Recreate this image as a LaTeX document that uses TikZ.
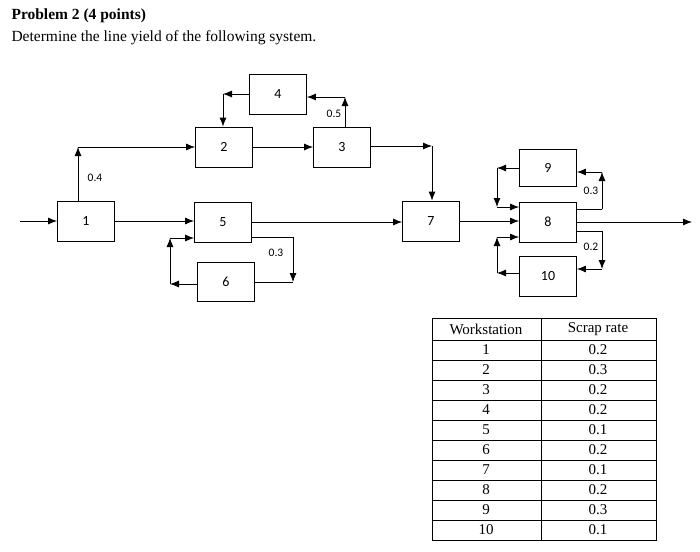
\documentclass[tikz,border=0pt]{standalone}
\usepackage{fontspec}
\setmainfont{Liberation Serif}
\newfontfamily\boxfont{Carlito}
\usetikzlibrary{arrows.meta}
\begin{document}
\begin{tikzpicture}[x=1pt,y=-1pt,
  box/.style={draw,thick,minimum width=57pt,minimum height=40pt,font=\boxfont\fontsize{14}{14}\selectfont},
  ar/.style={-{Latex[length=9pt,width=7pt]},thick},
  ln/.style={thick},
  lab/.style={font=\boxfont\fontsize{11.5}{11.5}\selectfont},
  tb/.style={font=\fontsize{15}{15}\selectfont}]
\useasboundingbox (0,0) rectangle (700,551);
\node[anchor=west,font=\bfseries\fontsize{15.5}{15.5}\selectfont] (t1) at (8,16) {Problem 2 (4 points)};
\node[anchor=west,font=\fontsize{15.5}{15.5}\selectfont] (t2) at (8,38) {Determine the line yield of the following system.};
\node[box] (n1) at (86,221) {1};
\node[box] (n2) at (224,147) {2};
\node[box] (n4) at (278,94) {4};
\node[box] (n3) at (342,147) {3};
\node[box] (n5) at (223,222) {5};
\node[box,minimum height=39pt] (n6) at (226,282) {6};
\node[box] (n7) at (431,221) {7};
\node[box,minimum height=37pt] (n9) at (548,168) {9};
\node[box] (n8) at (548,222) {8};
\node[box] (n10) at (548,276) {10};
\coordinate (in) at (20,221);
\coordinate (out) at (692,222);
\draw[ar] (in) -- (n1.west);
\draw[ar] (n1.east) -- (n5.west |- n1.east);
% 1 -> 2
\coordinate (a1) at (78,147);
\draw[ar] (n1.north -| a1) -- (a1);
\draw[ar] (a1) -- (n2.west);
\node[lab] (l04) at (95,178) {0.4};
\draw[ar] (n2.east) -- (n3.west);
% 3 -> 4
\coordinate (b1) at (345,97);
\draw[ar] (n3.north -| b1) -- (b1);
\draw[ar] (b1) -- (n4.east |- b1);
\node[lab] (l05) at (334,114) {0.5};
% 4 -> 2
\coordinate (c1) at (223,94);
\draw[ar] (n4.west) -- (c1);
\draw[ar] (c1) -- (n2.north -| c1);
% 3 -> 7
\coordinate (d1) at (432,146);
\draw[ar] (n3.east |- d1) -- (d1);
\draw[ar] (d1) -- (n7.north -| d1);
\draw[ar] (n5.east) -- (n7.west |- n5.east);
% 5 -> 6
\coordinate (e0) at (252,237);
\coordinate (e1) at (293,237);
\coordinate (e2) at (293,282);
\draw[ln] (e0) -- (e1);
\draw[ar] (e1) -- (e2);
\draw[ln] (e2) -- (n6.east);
\node[lab] (l03a) at (276,253) {0.3};
% 6 -> 5
\coordinate (f1) at (170,284);
\coordinate (f2) at (170,238);
\draw[ar] (n6.west |- f1) -- (f1);
\draw[ar] (f1) -- (f2);
\draw[ar] (f2) -- (n5.west |- f2);
\draw[ar] (n7.east) -- (n8.west |- n7.east);
\draw[ar] (n8.east) -- (out);
% 8 -> 9
\coordinate (g0) at (577,209);
\coordinate (g1) at (602,209);
\coordinate (g2) at (602,172);
\draw[ln] (g0) -- (g1);
\draw[ar] (g1) -- (g2);
\draw[ar] (g2) -- (n9.east |- g2);
\node[lab] (l03b) at (591,191) {0.3};
% 9 -> 8
\coordinate (h1) at (497,168);
\coordinate (h2) at (497,207);
\draw[ar] (n9.west) -- (h1);
\draw[ar] (h1) -- (h2);
\draw[ar] (h2) -- (n8.west |- h2);
% 8 -> 10
\coordinate (i0) at (577,231);
\coordinate (i1) at (602,231);
\coordinate (i2) at (602,269);
\draw[ln] (i0) -- (i1);
\draw[ar] (i1) -- (i2);
\draw[ar] (i2) -- (n10.east |- i2);
\node[lab] (l02) at (591,247) {0.2};
% 10 -> 8
\coordinate (j1) at (497,273);
\coordinate (j2) at (497,237);
\draw[ar] (n10.west |- j1) -- (j1);
\draw[ar] (j1) -- (j2);
\draw[ar] (j2) -- (n8.west |- j2);
% table
\draw (432,318) rectangle (656,540);
\draw (541,318) -- (541,540);
\draw (432,340) -- (656,340);
\foreach \i in {1,...,9} \draw (432,{340+20*\i}) -- (656,{340+20*\i});
\node[tb] (h1t) at (486,329) {Workstation};
\node[tb] (h2t) at (598,329) {Scrap rate};
\foreach \k/\r [count=\i] in {1/0.2,2/0.3,3/0.2,4/0.2,5/0.1,6/0.2,7/0.1,8/0.2,9/0.3,10/0.1}{
  \node[tb] (wk\i) at (486,{330+20*\i}) {\k};
  \node[tb] (sr\i) at (598,{330+20*\i}) {\r};
}
\end{tikzpicture}
\end{document}
